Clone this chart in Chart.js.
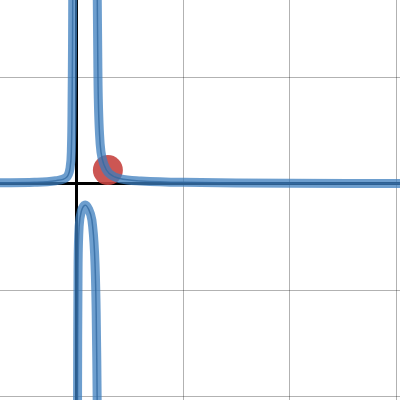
<!DOCTYPE html>
<html>
<head>
<script src="https://cdn.jsdelivr.net/npm/chart.js@4"></script>
<style>
  html, body { margin: 0; padding: 0; background: #fff; }
  #wrap { width: 400px; height: 400px; }
</style>
</head>
<body>
<div id="wrap"><canvas id="graph"></canvas></div>
<script>
// Branches of the curve (grid step = 1 unit)
const leftBranch = [[-0.75, 0.01], [-0.4, 0.015], [-0.2, 0.03], [-0.1, 0.06], [-0.065, 0.15], [-0.052, 0.35], [-0.046, 0.8], [-0.042, 1.3], [-0.04, 1.8]];
const rightBranch = [[0.19, 1.8], [0.195, 1.2], [0.2, 0.8], [0.21, 0.5], [0.225, 0.3], [0.25, 0.19], [0.3, 0.1], [0.4, 0.05], [0.6, 0.028], [1, 0.015], [2, 0.006], [3.1, 0.003]];
const middleBranch = [[0.005, -2.1], [0.01, -0.8], [0.02, -0.4], [0.04, -0.26], [0.075, -0.2], [0.11, -0.24], [0.14, -0.34], [0.165, -0.65], [0.18, -1.2], [0.19, -2.1]];
const marker = [[0.29, 0.13]];

const toPts = arr => arr.map(p => ({ x: p[0], y: p[1] }));
const blue = 'rgba(60,125,190,0.75)';
const dark = 'rgba(25,50,80,0.8)';

function branch(arr, color, width) {
    return {
        data: toPts(arr),
        showLine: true,
        borderColor: color,
        borderWidth: width,
        pointRadius: 0,
        tension: 0.4,
        fill: false
    };
}

const datasets = [];
[leftBranch, rightBranch, middleBranch].forEach(b => {
    datasets.push(branch(b, blue, 9));
    datasets.push(branch(b, dark, 1.5));
});
datasets.push({
    data: toPts(marker),
    pointRadius: 15,
    pointBackgroundColor: 'rgba(199,68,64,0.9)',
    pointBorderWidth: 0
});

function gridColor(ctx) {
    return ctx.tick && ctx.tick.value === 0 ? '#000' : 'rgba(0,0,0,0.3)';
}
function gridWidth(ctx) {
    return ctx.tick && ctx.tick.value === 0 ? 3 : 1;
}

new Chart(document.getElementById('graph'), {
    type: 'scatter',
    data: { datasets: datasets },
    options: {
        responsive: true,
        maintainAspectRatio: false,
        animation: false,
        layout: { padding: 0, autoPadding: false },
        plugins: { legend: { display: false }, tooltip: { enabled: false } },
        scales: {
            x: {
                min: -0.723, max: 3.033,
                border: { display: false },
                grid: { color: gridColor, lineWidth: gridWidth, drawTicks: false },
                ticks: { display: false, padding: 0 },
                afterBuildTicks: axis => { axis.ticks = [0, 1, 2, 3].map(v => ({ value: v })); }
            },
            y: {
                min: -2.03, max: 1.727,
                border: { display: false },
                grid: { color: gridColor, lineWidth: gridWidth, drawTicks: false },
                ticks: { display: false, padding: 0 },
                afterBuildTicks: axis => { axis.ticks = [-2, -1, 0, 1].map(v => ({ value: v })); }
            }
        }
    }
});
</script>
</body>
</html>
